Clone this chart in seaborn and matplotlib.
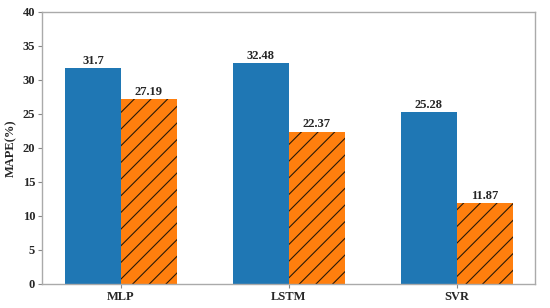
import matplotlib
matplotlib.use("Agg")
import matplotlib.pyplot as plt
import seaborn as sns
import pandas as pd

models = ["MLP", "LSTM", "SVR"]
series_names = ["Before", "After"]
before_vals = [31.7, 32.48, 25.28]
after_vals = [27.19, 22.37, 11.87]
yticks = [0, 5, 10, 15, 20, 25, 30, 35, 40]

df = pd.DataFrame({
    "model": models * 2,
    "series": [series_names[0]] * 3 + [series_names[1]] * 3,
    "value": before_vals + after_vals,
})

sns.set_style("white")
plt.rcParams["font.family"] = ["Liberation Serif", "DejaVu Serif"]
plt.rcParams["hatch.linewidth"] = 0.8

fig = plt.figure(figsize=(5.5, 3.08), dpi=100)
ax = fig.add_axes([42/550, 1 - 284/308, (535-42)/550, (284-12)/308])

sns.barplot(data=df, x="model", y="value", hue="series", order=models,
            hue_order=series_names, palette=["#1f77b4", "#ff7f0e"],
            width=2/3, gap=0, saturation=1, legend=False, ax=ax, errorbar=None)

for i, cont in enumerate(ax.containers):
    for bar in cont:
        if i == 1:
            bar.set_hatch("//")
            bar.set_edgecolor("#2a1a08")
            bar.set_linewidth(0)
        else:
            bar.set_linewidth(0)
    labels = [f"{v:g}" for v in (before_vals if i == 0 else after_vals)]
    ax.bar_label(cont, labels=labels, padding=1, fontsize=9, fontweight="bold")

ax.set_ylim(0, 40)
ax.set_yticks(yticks)
ax.set_xlim(-0.47, 2.465)
ax.set_xlabel("")
ax.set_ylabel("MAPE(%)", fontsize=9, fontweight="bold")
for lab in ax.get_xticklabels() + ax.get_yticklabels():
    lab.set_fontweight("bold")
    lab.set_fontsize(9)
ax.tick_params(axis="y", left=True, length=3, width=0.8, color="#888888", pad=2)
ax.tick_params(axis="x", bottom=True, length=3, width=0.8, color="#888888", pad=2)
for s in ax.spines.values():
    s.set_color("#aaaaaa")
    s.set_linewidth(1.0)

fig.savefig("out.png", dpi=100)
